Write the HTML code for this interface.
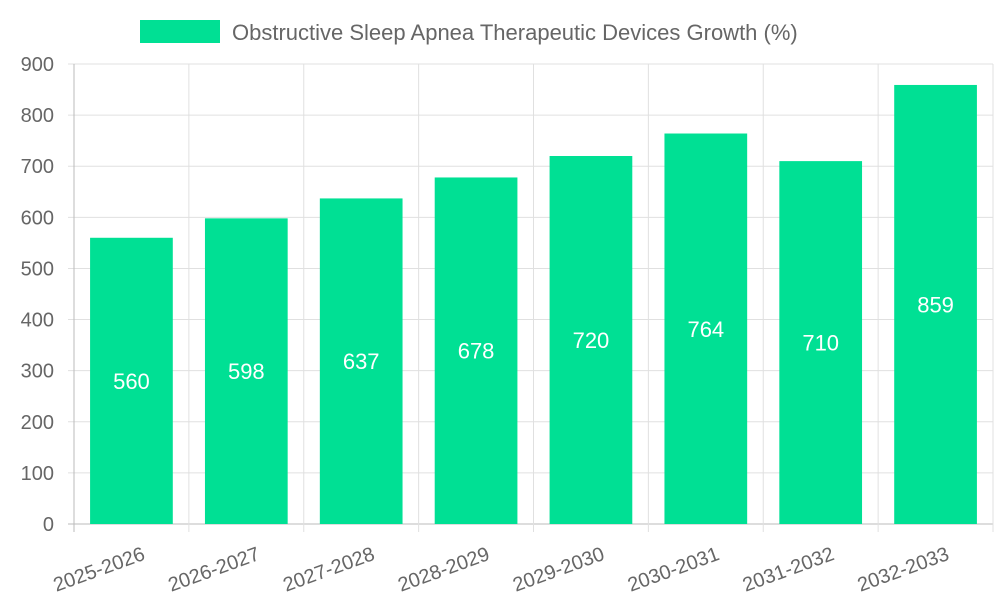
<!DOCTYPE html>
<html><head><meta charset="utf-8"><style>
body{margin:0;background:#fff;}
svg text{font-family:"Liberation Sans",sans-serif;}
</style></head><body>
<svg id="chart" width="1000" height="600" xmlns="http://www.w3.org/2000/svg">
<rect x="140" y="20" width="80" height="23" fill="#00e094"/>
<text x="232" y="40" font-size="22" fill="#666">Obstructive Sleep Apnea Therapeutic Devices Growth (%)</text>
<g id="grid"></g><g id="bars"></g><g id="labels"></g>
</svg>
<script>
const categories=["2025-2026","2026-2027","2027-2028","2028-2029","2029-2030","2030-2031","2031-2032","2032-2033"];
const values=[560,598,637,678,720,764,710,859];
const yTicks=[0,100,200,300,400,500,600,700,800,900];
const L=74,R=993,T=64,B=524,yMax=900;
const ns="http://www.w3.org/2000/svg";
const y=v=>B-(v/yMax)*(B-T);
const bw=(R-L)/categories.length;
const x=i=>L+i*bw;
function mk(p,tag,a){const e=document.createElementNS(ns,tag);for(const k in a)e.setAttribute(k,a[k]);document.getElementById(p).appendChild(e);return e;}
yTicks.forEach(t=>{
 const g=mk("grid","line",{x1:L-6,x2:R,y1:y(t),y2:y(t),stroke:t===0?"#bbb":"#e0e0e0","stroke-width":1});
 
 
 const tx=mk("labels","text",{x:L-20,y:y(t)+7,"font-size":20,fill:"#666","text-anchor":"end"});
 tx.textContent=t;
 
 
});
for(let i=0;i<=categories.length;i++){
 const g=mk("grid","line",{x1:x(i),x2:x(i),y1:T,y2:B+8,stroke:i===0?"#bbb":"#e0e0e0","stroke-width":1});
 
 
}
categories.forEach((c,i)=>{
 const w=bw*0.72,bx=x(i)+(bw-w)/2;
 const r=mk("bars","rect",{x:bx,y:y(values[i]),width:w,height:B-y(values[i]),fill:"#00e094"});
 
 
 const v=mk("labels","text",{x:bx+w/2,y:(y(values[i])+B)/2+8,"font-size":22,fill:"#fff","text-anchor":"middle"});
 v.textContent=values[i];
 
 
 const cx=x(i)+bw/2+10,cy=B+22;
 const t=mk("labels","text",{x:cx,y:cy+14,"font-size":20,fill:"#666","text-anchor":"end",transform:`rotate(-20 ${cx} ${cy})`});
 t.textContent=c;
 
 
});
</script>
</body></html>
